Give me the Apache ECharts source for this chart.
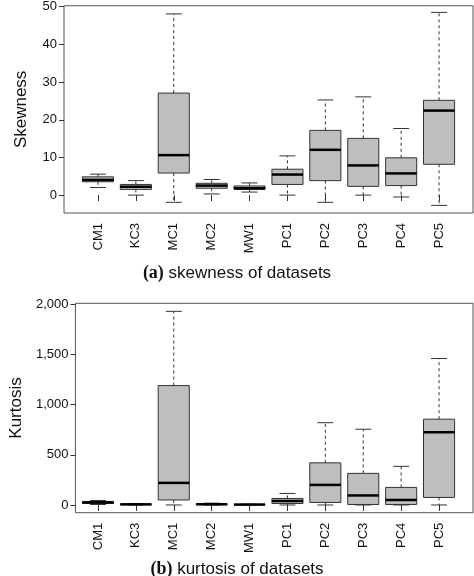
<!DOCTYPE html><html><head><meta charset="utf-8"><script src="https://cdn.jsdelivr.net/npm/echarts@6/dist/echarts.min.js"></script>
<style>html,body{margin:0;padding:0;background:#fff}#c{width:474px;height:576px}</style></head><body><div id="c"></div><script>
const categories=['CM1','KC3','MC1','MC2','MW1','PC1','PC2','PC3','PC4','PC5'];
// [min, q1, median, q3, max]
const skewness=[[2,3.5,4,4.8,5.5],[0,1.5,2.2,2.8,3.8],[-1.9,5.8,10.5,26.8,47.6],[0.3,1.8,2.5,3.1,4.1],[0.8,1.5,1.8,2.4,3.2],[0,2.8,5.4,6.8,10.3],[-1.9,3.8,11.9,17,25],[0,2.3,7.8,14.9,25.8],[-0.5,2.5,5.7,9.8,17.5],[-2.7,8.1,22.2,24.9,48]];
const kurtosis=[[5,15,25,35,45],[0,3,6,10,15],[0,50,220,1190,1930],[0,3,7,12,18],[0,2,4,6,8],[0,15,40,65,115],[0,25,200,420,820],[0,5,95,315,755],[0,5,50,175,385],[0,75,725,855,1460]];
const skewTicks=[0,10,20,30,40,50];
const kurtTicks=[0,500,1000,1500,2000];
const ranges=[[-4.7,50.2],[-77,2010]];
const ch=echarts.init(document.getElementById('c'));
function render(params,api){
  const i=api.value(0),mn=api.value(1),q1=api.value(2),md=api.value(3),q3=api.value(4),mx=api.value(5);
  const bw=api.size([1,0])[0];const w=bw*0.41,cw=bw*0.21;
  const x=api.coord([i,0])[0];
  const y=v=>api.coord([i,v])[1];
  const s={stroke:'#333',lineWidth:1};
  return {type:'group',children:[
    {type:'line',shape:{x1:x,y1:y(q3),x2:x,y2:y(mx)},style:{stroke:'#333',lineWidth:1,lineDash:[3,3]}},
    {type:'line',shape:{x1:x,y1:y(q1),x2:x,y2:y(mn)},style:{stroke:'#333',lineWidth:1,lineDash:[3,3]}},
    {type:'line',shape:{x1:x-cw,y1:y(mx),x2:x+cw,y2:y(mx)},style:s},
    {type:'line',shape:{x1:x-cw,y1:y(mn),x2:x+cw,y2:y(mn)},style:s},
    {type:'rect',shape:{x:x-w,y:y(q3),width:2*w,height:y(q1)-y(q3)},style:{fill:'#bebebe',stroke:'#333',lineWidth:1}},
    {type:'line',shape:{x1:x-w,y1:y(md),x2:x+w,y2:y(md)},style:{stroke:'#000',lineWidth:2.5}}
  ]};
}
const tops=[4,303.3],h=[209,209.4];
const grid=[],xAxis=[],yAxis=[],series=[];
[skewness,kurtosis].forEach((d,k)=>{
  grid.push({left:64,top:tops[k],width:409,height:h[k],show:true,borderColor:'#555',borderWidth:1,backgroundColor:'transparent'});
  grid.push({left:79,top:tops[k],width:379,height:h[k]});
  const ticks=k?kurtTicks:skewTicks;
  xAxis.push({gridIndex:2*k,type:'value',show:false,min:0,max:1});
  yAxis.push({gridIndex:2*k,type:'value',min:ranges[k][0],max:ranges[k][1],name:k?'Kurtosis':'Skewness',nameLocation:'middle',nameGap:k?42:34,nameRotate:90,
    nameTextStyle:{fontFamily:'Liberation Sans',fontSize:17,color:'#111'},
    axisLine:{show:false},splitLine:{show:false},
    axisTick:{show:true,length:5,lineStyle:{color:'#333'},customValues:ticks},
    axisLabel:{fontFamily:'Liberation Sans',fontSize:13,color:'#111',margin:7,customValues:ticks}});
  xAxis.push({gridIndex:2*k+1,type:'category',data:categories,axisLine:{show:false},
    axisTick:{show:true,alignWithLabel:true,length:6,lineStyle:{color:'#333'}},
    axisLabel:{rotate:90,fontFamily:'Liberation Sans',fontSize:13,color:'#111',margin:10,interval:0}});
  yAxis.push({gridIndex:2*k+1,type:'value',show:false,min:ranges[k][0],max:ranges[k][1]});
  series.push({type:'custom',xAxisIndex:2*k+1,yAxisIndex:2*k+1,renderItem:render,data:d.map((v,i)=>[i,...v])});
});
ch.setOption({animation:false,grid,xAxis,yAxis,series,
  title:[
    {text:'{b|(a)} skewness of datasets',left:'center',top:259,textStyle:{fontFamily:'Liberation Sans',fontSize:17,fontWeight:'normal',color:'#111',rich:{b:{fontFamily:'Liberation Serif',fontWeight:'bold',fontSize:18,color:'#111'}}}},
    {text:'{b|(b)} kurtosis of datasets',left:'center',top:555,textStyle:{fontFamily:'Liberation Sans',fontSize:17,fontWeight:'normal',color:'#111',rich:{b:{fontFamily:'Liberation Serif',fontWeight:'bold',fontSize:18,color:'#111'}}}}
  ]});
</script></body></html>
